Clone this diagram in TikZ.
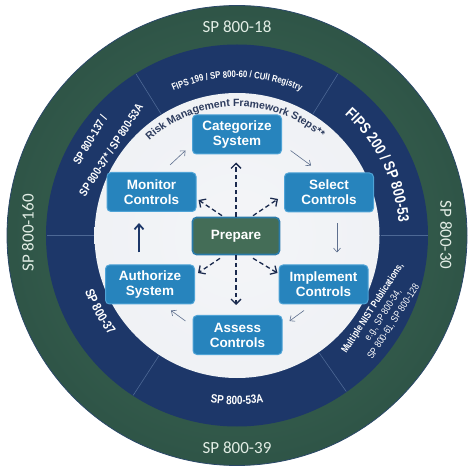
\documentclass[tikz,border=0pt]{standalone}
\usepackage{fontspec}
\setmainfont{Liberation Sans}
\newfontfamily\narrowfnt[FakeStretch=0.82]{Liberation Sans}
\newfontfamily\calfnt{Carlito}
\usetikzlibrary{arrows.meta,decorations.text}
\definecolor{grn}{HTML}{3F6C56}
\definecolor{grndk}{HTML}{24453D}
\definecolor{navy}{HTML}{1D3769}
\definecolor{boxblue}{HTML}{2784BD}
\definecolor{boxedge}{HTML}{4FA3D6}
\definecolor{prepgrn}{HTML}{446D57}
\definecolor{prepedge}{HTML}{2A7AA8}
\definecolor{dasharrc}{HTML}{1B2A4E}
\definecolor{thinarrc}{HTML}{5E6F8E}
\definecolor{risktext}{HTML}{2D3C5E}
\definecolor{divc}{HTML}{4D6895}
\definecolor{grntext}{HTML}{E2EDE5}
\definecolor{discA}{HTML}{F4F5F8}
\definecolor{discB}{HTML}{ECEFF3}
\definecolor{discC}{HTML}{C9D0DB}
\definecolor{discD}{HTML}{8E9BB2}
\definecolor{rimc}{HTML}{2A4868}
\pgfdeclareradialshading{greenring}{\pgfpoint{0bp}{0bp}}{color(0bp)=(grn); color(41.4bp)=(grndk); color(45bp)=(grn); color(50bp)=(grn)}
\pgfdeclareradialshading{whitedisc}{\pgfpoint{0bp}{0bp}}{color(0bp)=(discA); color(44bp)=(discB); color(48.5bp)=(discC); color(50bp)=(discD)}
\begin{document}
\begin{tikzpicture}[x=1pt,y=1pt,
  box/.style={rounded corners=4pt, fill=boxblue, draw=boxedge, line width=1pt, text=white,
    font=\bfseries\fontsize{13.5}{15}\selectfont, minimum width=89pt, minimum height=39pt,
    inner sep=0pt, align=center},
  prepbox/.style={box, fill=prepgrn, draw=prepedge, line width=1.6pt, minimum width=87pt, minimum height=37pt},
  thinarr/.style={draw=thinarrc, line width=0.6pt, -{Straight Barb[length=4pt,width=7pt]}},
  dasharr/.style={draw=dasharrc, line width=1.3pt, dash pattern=on 4.5pt off 3pt, -{Straight Barb[length=5pt,width=10pt]}},
  thickarr/.style={draw=navy, line width=1.8pt, -{Straight Barb[length=5pt,width=9pt]}},
  greenlbl/.style={text=grntext, font=\calfnt\fontsize{17}{20}\selectfont, inner sep=0pt},
  ringlbl/.style={text=white, inner sep=0pt, align=center},
  divider/.style={draw=divc, line width=0.6pt}]
\useasboundingbox (0,0) rectangle (474,469);
\coordinate (C) at (237,233.5);
% rings
\shade[shading=greenring] (C) circle[radius=230];
\draw[rimc, line width=0.8pt] (C) circle[radius=230];
\fill[navy] (C) circle[radius=191];
\shade[shading=whitedisc] (C) circle[radius=142.5];
\foreach \a in {58,122,180,0,-55,-123}
  \draw[divider] ([shift={(\a:143.5)}]C) -- ([shift={(\a:190.5)}]C);
% green ring labels
\node[greenlbl] (g18) at (237,442) {SP 800-18};
\node[greenlbl] (g39) at (237,21) {SP 800-39};
\node[greenlbl, rotate=90] (g160) at (28,236) {SP 800-160};
\node[greenlbl, rotate=-90] (g30) at (446,234) {SP 800-30};
% blue ring labels
\path[decorate, decoration={text along path, text align=center, text color=white,
  text={|\narrowfnt\bfseries\fontsize{9.5}{11}\selectfont|FIPS 199 / SP 800-60 / CUII Registry}}]
  ([shift={(150:158)}]C) arc[start angle=150, end angle=30, radius=158];
\path[decorate, decoration={text along path, text align=center, text color=white,
  text={|\narrowfnt\bfseries\fontsize{15.5}{17}\selectfont|FIPS 200 / SP 800-53}}]
  ([shift={(76.5:162)}]C) arc[start angle=76.5, end angle=-23.5, radius=162];
\path[decorate, decoration={text along path, text align=center, text color=white,
  text={|\narrowfnt\bfseries\fontsize{12}{14}\selectfont|SP 800-53A}}]
  ([shift={(-150:169)}]C) arc[start angle=-150, end angle=-30, radius=169];
\path[decorate, decoration={text along path, text align=center, text color=white,
  text={|\narrowfnt\bfseries\fontsize{13}{15}\selectfont|SP 800-37}}]
  ([shift={(164:162)}]C) arc[start angle=164, end angle=254, radius=162];
\node[ringlbl, rotate=59, font=\narrowfnt\bfseries\fontsize{11.5}{13}\selectfont] (tl1) at (90,329) {SP 800-137 /};
\node[ringlbl, rotate=57, font=\narrowfnt\bfseries\fontsize{11.5}{13}\selectfont] (tl2) at (111,319) {SP 800-37* / SP 800-53A};
\node[ringlbl, rotate=57, font=\narrowfnt\fontsize{10}{12.5}\selectfont] (br) at (383,154)
  {{\bfseries Multiple NIST Publications,}\\e.g., SP 800-34,\\SP 800-61, SP 800-128};
% RMF title
\path[decorate, decoration={text along path, text align=center, text color=risktext,
  text={|\bfseries\fontsize{10.5}{12}\selectfont|Risk Management Framework Steps**}}]
  ([shift={(171:129)}]C) arc[start angle=171, end angle=11, radius=129];
% boxes
\node[box] (cat) at (237,334.5) {Categorize\\System};
\node[box] (mon) at (151.5,277) {Monitor\\Controls};
\node[box] (sel) at (329,276.5) {Select\\Controls};
\node[prepbox] (prep) at (236,233) {Prepare};
\node[box] (aut) at (150,184.5) {Authorize\\System};
\node[box] (imp) at (323.5,184.5) {Implement\\Controls};
\node[box] (ass) at (237.5,134) {Assess\\Controls};
% cycle arrows
\draw[thinarr] ([shift={(18.5,7)}]mon.north) -- ([shift={(-6.5,4)}]cat.south west);
\draw[thinarr] ([shift={(8.5,4)}]cat.south east) -- ([shift={(-18,7)}]sel.north);
\draw[thinarr] ([shift={(8,-11)}]sel.south) -- ([shift={(13.5,12)}]imp.north);
\draw[thinarr] ([shift={(-19.5,-6)}]imp.south) -- ([shift={(7,-6)}]ass.north east);
\draw[thinarr] ([shift={(-7,-6)}]ass.north west) -- ([shift={(21,-6)}]aut.south);
\draw[thickarr] ([shift={(-11,12)}]aut.north) -- ([shift={(-12.5,-11)}]mon.south);
% prepare arrows
\draw[dasharr] (prep.north) -- ([shift={(-1,-8)}]cat.south);
\draw[dasharr] ([shift={(-14,1)}]prep.north) -- ([shift={(2,-8)}]mon.east);
\draw[dasharr] ([shift={(17,1)}]prep.north) -- ([shift={(-6,-6.5)}]sel.west);
\draw[dasharr] ([shift={(-16,-3)}]prep.south) -- ([shift={(3,11.5)}]aut.east);
\draw[dasharr] ([shift={(17,-3)}]prep.south) -- ([shift={(-1,11.5)}]imp.west);
\draw[dasharr] (prep.south) -- ([shift={(-1.5,10)}]ass.north);
\end{tikzpicture}
\end{document}
